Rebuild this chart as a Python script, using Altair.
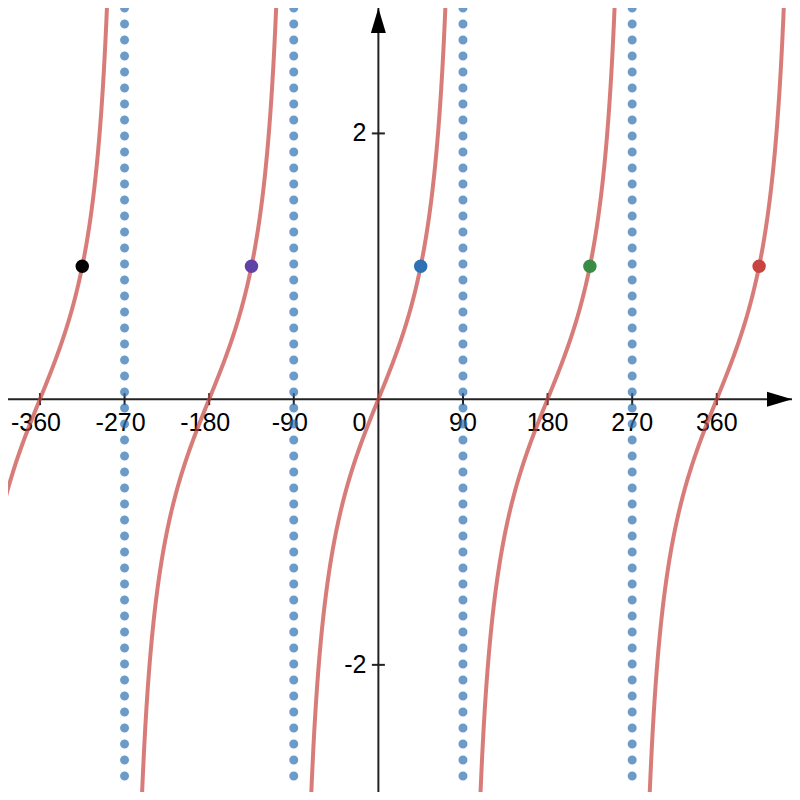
import altair as alt
import numpy as np
import pandas as pd

# Axis extents (degrees / value units)
X_MIN, X_MAX = -394, 440
Y_MIN, Y_MAX = -2.957, 2.944

# Tick labels
x_ticks = [-360, -270, -180, -90, 90, 180, 270, 360]
y_ticks = [-2, 2]

# Vertical asymptotes (dotted)
asymptotes = [-270, -90, 90, 270]

# Highlighted points where tan(x) = 1
pt_x = [-315, -135, 45, 225, 405]
pt_y = [1, 1, 1, 1, 1]
pt_color = ["#000000", "#6042a6", "#2d70b3", "#388c46", "#c74440"]

# Branch centres of y = tan(x°)
branch_centres = [-360, -180, 0, 180, 360]

rows = []
for c in branch_centres:
    xs = np.linspace(c - 76, c + 76, 400)
    for xv in xs:
        rows.append({"x": float(xv), "y": float(np.tan(np.radians(xv))), "branch": c})
curve_df = pd.DataFrame(rows)

xs = alt.Scale(domain=[X_MIN, X_MAX], nice=False, zero=False)
ys = alt.Scale(domain=[Y_MIN, Y_MAX], nice=False, zero=False)
noax = None

FONT = "Liberation Sans"
FS = 25

xlab_df = pd.DataFrame({"v": x_ticks, "y": [0] * len(x_ticks), "t": [str(v) for v in x_ticks]})
ylab_df = pd.DataFrame({"v": y_ticks, "x": [0] * len(y_ticks), "t": [str(v) for v in y_ticks]})
zero_df = pd.DataFrame({"x": [0], "y": [0], "t": ["0"]})

x_enc = lambda f: alt.X(f, type="quantitative", scale=xs, axis=noax)
y_enc = lambda f: alt.Y(f, type="quantitative", scale=ys, axis=noax)

# Axis lines
x_axis = alt.Chart(pd.DataFrame({"y": [0]})).mark_rule(color="#222222", strokeWidth=2).encode(y=y_enc("y"))
y_axis = alt.Chart(pd.DataFrame({"x": [0]})).mark_rule(color="#222222", strokeWidth=2).encode(x=x_enc("x"))

# Ticks
x_tick_marks = alt.Chart(xlab_df).mark_tick(orient="vertical", size=12, thickness=2, color="#222222", opacity=1).encode(
    x=x_enc("v"), y=y_enc("y"))
y_tick_marks = alt.Chart(ylab_df).mark_tick(orient="horizontal", size=13, thickness=2, color="#222222", opacity=1).encode(
    x=x_enc("x"), y=y_enc("v"))

# Labels
pos_lab = alt.Chart(xlab_df).transform_filter("datum.v > 0").mark_text(
    font=FONT, fontSize=FS, align="center", baseline="alphabetic", dy=32, color="#000000").encode(
    x=x_enc("v"), y=y_enc("y"), text="t:N")
neg_lab = alt.Chart(xlab_df).transform_filter("datum.v < 0").mark_text(
    font=FONT, fontSize=FS, align="center", baseline="alphabetic", dy=32, dx=-4, color="#000000").encode(
    x=x_enc("v"), y=y_enc("y"), text="t:N")
zero_lab = alt.Chart(zero_df).mark_text(
    font=FONT, fontSize=FS, align="right", baseline="alphabetic", dy=32, dx=-12, color="#000000").encode(
    x=x_enc("x"), y=y_enc("y"), text="t:N")
y_lab = alt.Chart(ylab_df).mark_text(
    font=FONT, fontSize=FS, align="right", baseline="alphabetic", dy=8, dx=-12, color="#000000").encode(
    x=x_enc("x"), y=y_enc("v"), text="t:N")

# Arrowheads at the axis ends
arrow_up = alt.Chart(pd.DataFrame({"x": [0], "y": [Y_MAX]})).mark_point(
    shape="M0,0L0.3,1L-0.3,1Z", size=2500, filled=True, color="#000000", opacity=1, strokeWidth=0).encode(
    x=x_enc("x"), y=y_enc("y"))
arrow_right = alt.Chart(pd.DataFrame({"x": [X_MAX], "y": [0]})).mark_point(
    shape="M0,0L-1,0.3L-1,-0.3Z", size=2500, filled=True, color="#000000", opacity=1, strokeWidth=0).encode(
    x=x_enc("x"), y=y_enc("y"))

# Curve
curve = alt.Chart(curve_df).mark_line(color="#c74440", opacity=0.7, strokeWidth=4, clip=True).encode(
    x=x_enc("x"), y=y_enc("y"), detail="branch:N", order="x:Q")

# Asymptotes
asym = alt.Chart(pd.DataFrame({"x": asymptotes})).mark_rule(
    color="#2d70b3", opacity=0.7, strokeWidth=9, strokeDash=[0, 16], strokeCap="round").encode(x=x_enc("x"))

# Points
pts = alt.Chart(pd.DataFrame({"x": pt_x, "y": pt_y, "c": pt_color})).mark_point(
    filled=True, size=180, opacity=1, strokeWidth=0).encode(
    x=x_enc("x"), y=y_enc("y"), color=alt.Color("c:N", scale=None))

chart = alt.layer(
    x_axis, y_axis, x_tick_marks, y_tick_marks, arrow_up, arrow_right,
    pos_lab, neg_lab, zero_lab, y_lab,
    curve, asym, pts
).properties(
    width=784, height=784, padding=0, autosize=alt.AutoSizeParams(type="none"), background="white"
).configure_view(stroke=None)

chart.save("out.html", embed_options={"renderer": "svg", "actions": False})
